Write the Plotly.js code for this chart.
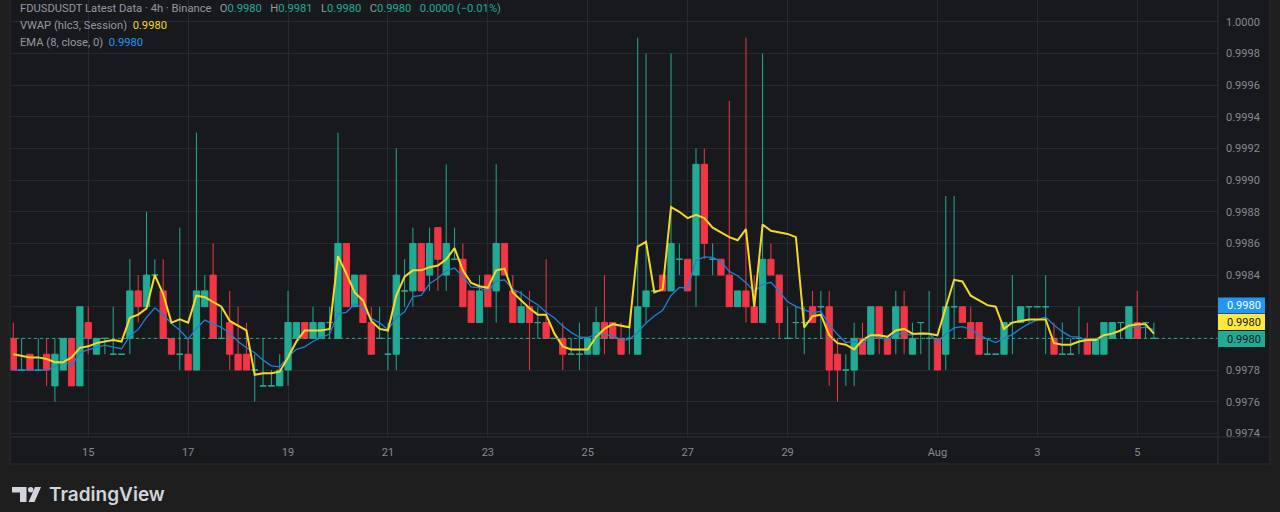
<!DOCTYPE html>
<html>
<head>
<meta charset="utf-8">
<script src="https://cdn.plot.ly/plotly-3.0.1.min.js"></script>
<style>
html,body{margin:0;padding:0;background:#1e1e1e;}
#chart{width:1280px;height:512px;}
</style>
</head>
<body>
<div id="chart"></div>
<script>
// ---- data (4h candles, FDUSD/USDT) ----
const START = '2024-07-13T12:00:00Z';
const STEP_HOURS = 4;

const open = [
.9980,.9978,.9979,.9978,.9979,.9977,.9978,.9980,.9977,.9981,
.9979,.9980,.9979,.9979,.9980,.9983,.9982,.9984,.9983,.9980,
.9979,.9979,.9978,.9982,.9984,.9980,.9981,.9979,.9979,.9978,
.9977,.9977,.9977,.9978,.9980,.9981,.9980,.9980,.9981,.9980,
.9986,.9982,.9984,.9981,.9980,.9979,.9979,.9983,.9983,.9986,
.9984,.9987,.9984,.9985,.9985,.9983,.9981,.9984,.9983,.9986,
.9983,.9981,.9982,.9981,.9981,.9980,.9980,.9979,.9979,.9979,
.9979,.9981,.9981,.9980,.9980,.9979,.9982,.9983,.9984,.9983,
.9985,.9985,.9984,.9991,.9985,.9985,.9984,.9982,.9983,.9982,
.9981,.9985,.9984,.9980,.9981,.9981,.9982,.9982,.9982,.9979,
.9978,.9978,.9980,.9979,.9982,.9980,.9980,.9982,.9979,.9981,
.9980,.9980,.9979,.9982,.9982,.9981,.9981,.9979,.9979,.9979,
.9981,.9981,.9982,.9982,.9982,.9980,.9979,.9979,.9980,.9980,
.9979,.9979,.9980,.9981,.9980,.9981,.9981,.9980
];
const high = [
.9981,.9980,.9979,.9980,.9980,.9980,.9980,.9980,.9982,.9982,
.9980,.9980,.9982,.9979,.9985,.9984,.9988,.9985,.9985,.9980,
.9987,.9980,.9993,.9984,.9986,.9982,.9983,.9982,.9981,.9979,
.9980,.9978,.9979,.9983,.9981,.9981,.9982,.9981,.9982,.9993,
.9986,.9984,.9984,.9982,.9982,.9981,.9992,.9985,.9987,.9986,
.9987,.9987,.9991,.9987,.9986,.9983,.9984,.9984,.9991,.9986,
.9984,.9983,.9983,.9982,.9985,.9980,.9981,.9980,.9981,.9980,
.9982,.9984,.9981,.9981,.9981,.9999,.9998,.9983,.9984,.9998,
.9986,.9985,.9992,.9992,.9986,.9985,.9995,.9983,.9999,.9984,
.9998,.9986,.9984,.9982,.9982,.9982,.9983,.9983,.9983,.9980,
.9979,.9981,.9981,.9982,.9982,.9980,.9983,.9983,.9981,.9981,
.9983,.9980,.9989,.9989,.9982,.9982,.9981,.9980,.9979,.9981,
.9984,.9982,.9982,.9982,.9984,.9981,.9981,.9980,.9982,.9981,
.9980,.9981,.9981,.9981,.9982,.9983,.9981,.9981
];
const low = [
.9978,.9978,.9978,.9978,.9977,.9976,.9978,.9977,.9977,.9979,
.9979,.9979,.9979,.9979,.9979,.9981,.9982,.9984,.9980,.9979,
.9978,.9978,.9978,.9982,.9980,.9980,.9978,.9978,.9978,.9976,
.9977,.9977,.9977,.9977,.9980,.9980,.9980,.9980,.9980,.9980,
.9982,.9982,.9981,.9979,.9980,.9978,.9978,.9982,.9982,.9983,
.9983,.9983,.9983,.9985,.9982,.9981,.9981,.9982,.9981,.9984,
.9981,.9981,.9978,.9980,.9980,.9980,.9978,.9979,.9978,.9979,
.9979,.9979,.9980,.9979,.9979,.9979,.9981,.9983,.9983,.9983,
.9984,.9983,.9982,.9985,.9984,.9984,.9982,.9982,.9981,.9981,
.9981,.9984,.9980,.9980,.9980,.9979,.9981,.9980,.9977,.9976,
.9977,.9977,.9979,.9979,.9979,.9979,.9979,.9979,.9979,.9979,
.9978,.9978,.9978,.9980,.9981,.9980,.9979,.9979,.9979,.9979,
.9979,.9981,.9981,.9982,.9979,.9979,.9979,.9979,.9979,.9979,
.9979,.9979,.9980,.9980,.9980,.9980,.9980,.9980
];
const close = [
.9978,.9978,.9978,.9978,.9978,.9979,.9980,.9977,.9982,.9980,
.9980,.9980,.9979,.9979,.9983,.9982,.9984,.9984,.9980,.9979,
.9979,.9978,.9983,.9983,.9980,.9980,.9979,.9978,.9978,.9978,
.9977,.9977,.9978,.9981,.9981,.9980,.9981,.9981,.9981,.9986,
.9982,.9984,.9981,.9979,.9980,.9979,.9984,.9983,.9986,.9983,
.9986,.9985,.9986,.9985,.9982,.9981,.9983,.9982,.9986,.9984,
.9981,.9982,.9981,.9981,.9980,.9980,.9979,.9979,.9979,.9980,
.9981,.9980,.9980,.9979,.9980,.9982,.9983,.9983,.9983,.9986,
.9985,.9983,.9991,.9986,.9985,.9984,.9982,.9983,.9982,.9981,
.9985,.9984,.9981,.9980,.9981,.9981,.9981,.9982,.9978,.9978,
.9978,.9980,.9979,.9982,.9980,.9979,.9982,.9980,.9980,.9981,
.9980,.9978,.9982,.9982,.9981,.9980,.9979,.9979,.9979,.9981,
.9981,.9982,.9982,.9982,.9982,.9979,.9979,.9979,.9980,.9979,
.9980,.9981,.9981,.9981,.9982,.9980,.9981,.9980
];
const vwap = [
.99790,.99789,.99788,.99788,.99787,.99785,.99785,.99788,.99794,.99795,
.99797,.99798,.99799,.99798,.99813,.99815,.99819,.99840,.99828,.99810,
.99812,.99810,.99827,.99826,.99823,.99820,.99811,.99808,.99805,.99777,
.99778,.99778,.99779,.99788,.99798,.99805,.99805,.99805,.99806,.99852,
.99841,.99829,.99824,.99811,.99806,.99805,.99827,.99839,.99843,.99843,
.99845,.99846,.99850,.99857,.99843,.99835,.99833,.99832,.99843,.99844,
.99829,.99824,.99819,.99815,.99815,.99803,.99795,.99793,.99793,.99793,
.99801,.99806,.99809,.99808,.99807,.99858,.99861,.99829,.99831,.99883,
.99880,.99876,.99878,.99876,.99870,.99867,.99864,.99862,.99869,.99820,
.99872,.99868,.99867,.99866,.99864,.99807,.99814,.99815,.99802,.99797,
.99796,.99793,.99799,.99802,.99802,.99801,.99805,.99806,.99803,.99803,
.99803,.99802,.99819,.99837,.99836,.99827,.99824,.99821,.99820,.99806,
.99810,.99811,.99812,.99812,.99812,.99797,.99796,.99796,.99798,.99799,
.99799,.99802,.99803,.99805,.99808,.99809,.99809,.99803
];
const EMA_LEN = 8;
const tickDates = ['2024-07-15','2024-07-17','2024-07-19','2024-07-21','2024-07-23','2024-07-25','2024-07-27','2024-07-29','2024-08-01','2024-08-03','2024-08-05'];
const tickLabels = ['15','17','19','21','23','25','27','29','Aug','3','5'];

// ---- derived ----
const t0 = Date.parse(START);
const times = close.map((_, i) => new Date(t0 + i * STEP_HOURS * 3600e3).toISOString().slice(0,16).replace('T',' '));
const ema = [];
const k = 2 / (EMA_LEN + 1);
close.forEach((c, i) => { ema.push(i === 0 ? c : c * k + ema[i-1] * (1 - k)); });

const UP = '#22ab94', DOWN = '#f23645', VWAPC = '#f5d823', EMAC = '#2196f3';
const isUp = close.map((c, i) => c >= open[i]);
const pick = (arr, want) => arr.map((v, i) => isUp[i] === want ? v : null);

function candle(want, col) {
  return {
    type: 'candlestick', x: times,
    open: pick(open, want), high: pick(high, want), low: pick(low, want), close: pick(close, want),
    increasing: {line: {color: col, width: 1}, fillcolor: col},
    decreasing: {line: {color: col, width: 1}, fillcolor: col},
    whiskerwidth: 0, hoverinfo: 'skip', showlegend: false
  };
}

const traces = [
  candle(true, UP),
  candle(false, DOWN),
  {type: 'scatter', mode: 'lines', x: times, y: ema, line: {color: '#1f7fd6', width: 1.3}, hoverinfo: 'skip'},
  {type: 'scatter', mode: 'lines', x: times, y: vwap, line: {color: VWAPC, width: 2}, hoverinfo: 'skip'}
];

// pixel -> paper helpers (plot area: x 10..1218, y 0..437)
const PX = px => (px - 10) / 1208;
const PY = py => 1 - py / 437;

const GRID = '#262930';
const AXC = '#2f323c';
const LBL = '#868993';
const FONT = 'Roboto, "DejaVu Sans", sans-serif';
const last = close.length - 1;
const f4 = v => (Math.floor(v * 1e4 + 1e-6) / 1e4).toFixed(4);

const shapes = [
  {type:'rect', xref:'paper', yref:'paper', x0:PX(10), x1:PX(1270), y0:PY(464), y1:PY(0), fillcolor:'#18191d', line:{width:0}, layer:'below'},
  {type:'line', xref:'paper', yref:'y', x0:0, x1:1, y0:close[last], y1:close[last], line:{color:UP, width:1, dash:'dot'}, layer:'above'},
  {type:'line', xref:'paper', yref:'paper', x0:PX(10), x1:PX(1270), y0:PY(437), y1:PY(437), line:{color:AXC, width:1}},
  {type:'line', xref:'paper', yref:'paper', x0:1, x1:1, y0:PY(0), y1:PY(464), line:{color:AXC, width:1}},
  {type:'rect', xref:'paper', yref:'paper', x0:PX(10), x1:PX(1270), y0:PY(464), y1:PY(-2), line:{color:'#2a2d35', width:1}},
  {type:'rect', xref:'paper', yref:'paper', x0:PX(1218), x1:PX(1265), y0:PY(313.5), y1:PY(297.5), fillcolor:EMAC, line:{width:0}, layer:'above'},
  {type:'rect', xref:'paper', yref:'paper', x0:PX(1218), x1:PX(1265), y0:PY(330), y1:PY(314), fillcolor:'#ffe83b', line:{width:0}, layer:'above'},
  {type:'rect', xref:'paper', yref:'paper', x0:PX(1218), x1:PX(1265), y0:PY(347), y1:PY(331), fillcolor:UP, line:{width:0}, layer:'above'},
  {type:'path', xref:'paper', yref:'paper', fillcolor:'#d1d4dc', line:{width:0},
   path:`M${PX(12)},${PY(487)} L${PX(26.5)},${PY(487)} L${PX(26.5)},${PY(502)} L${PX(20)},${PY(502)} L${PX(20)},${PY(492.5)} L${PX(12)},${PY(492.5)} Z`},
  {type:'circle', xref:'paper', yref:'paper', fillcolor:'#d1d4dc', line:{width:0},
   x0:PX(28), x1:PX(33.4), y0:PY(492.5), y1:PY(487.1)},
  {type:'path', xref:'paper', yref:'paper', fillcolor:'#d1d4dc', line:{width:0},
   path:`M${PX(35)},${PY(487)} L${PX(41)},${PY(487)} L${PX(34.5)},${PY(502)} L${PX(28.5)},${PY(502)} Z`}
];

const g = s => `<span style="color:${UP}">${s}</span>`;
const HF = {family:FONT, size:11.2, color:'#9598a1'};
const SP = '\u00a0\u00a0\u00a0';
const annotations = [
  {xref:'paper', yref:'paper', x:PX(18), y:PY(8.5), xanchor:'left', yanchor:'middle', showarrow:false, font:HF,
   text:`FDUSDUSDT Latest Data · 4h · Binance${SP}O${g(f4(open[last]))}${SP}H${g(f4(high[last]))}${SP}L${g(f4(low[last]))}${SP}C${g(f4(close[last]))}${SP}${g('0.0000 (−0.01%)')}`},
  {xref:'paper', yref:'paper', x:PX(18), y:PY(25), xanchor:'left', yanchor:'middle', showarrow:false, font:HF,
   text:`VWAP (hlc3, Session)  <span style="color:${VWAPC}">${f4(vwap[last])}</span>`},
  {xref:'paper', yref:'paper', x:PX(18), y:PY(42), xanchor:'left', yanchor:'middle', showarrow:false, font:HF,
   text:`EMA (8, close, 0)  <span style="color:${EMAC}">${f4(ema[last])}</span>`},
  {xref:'paper', yref:'paper', x:PX(1225), y:PY(305.5), xanchor:'left', yanchor:'middle', showarrow:false,
   font:{family:FONT, size:11, color:'#ffffff'}, text:f4(ema[last])},
  {xref:'paper', yref:'paper', x:PX(1225), y:PY(322), xanchor:'left', yanchor:'middle', showarrow:false,
   font:{family:FONT, size:11, color:'#131722'}, text:f4(vwap[last])},
  {xref:'paper', yref:'paper', x:PX(1225), y:PY(339), xanchor:'left', yanchor:'middle', showarrow:false,
   font:{family:FONT, size:11, color:'#131722'}, text:f4(close[last])},
  {xref:'paper', yref:'paper', x:PX(47), y:PY(494.5), xanchor:'left', yanchor:'middle', showarrow:false,
   font:{family:'Inter, Roboto, sans-serif', size:19, color:'#d1d4dc', weight:600}, text:'TradingView'}
];

const layout = {
  width: 1280, height: 512,
  margin: {l:10, r:62, t:0, b:75, pad:0},
  paper_bgcolor: '#1e1e1e', plot_bgcolor: 'rgba(0,0,0,0)',
  showlegend: false, hovermode: false,
  boxmode: 'overlay', boxgap: 0.25, boxgroupgap: 0,
  xaxis: {
    type: 'date', range: ['2024-07-13 10:25', '2024-08-06 14:48'],
    tickmode: 'array', tickvals: tickDates, ticktext: tickLabels,
    showgrid: true, gridcolor: GRID, gridwidth: 1, zeroline: false, showline: false,
    ticks: '', ticklabelstandoff: 7,
    tickfont: {family: FONT, size: 11, color: LBL},
    rangeslider: {visible: false}, fixedrange: true
  },
  yaxis: {
    side: 'right', range: [0.997377, 1.000138],
    tick0: 0.9974, dtick: 0.0002, tickformat: '.4f',
    showgrid: true, gridcolor: GRID, gridwidth: 1, zeroline: false, showline: false,
    ticks: '', ticklabelstandoff: 7,
    tickfont: {family: FONT, size: 11, color: LBL}, fixedrange: true
  },
  shapes: shapes,
  annotations: annotations
};

Plotly.newPlot('chart', traces, layout, {displayModeBar: false, staticPlot: true});
</script>
</body>
</html>
